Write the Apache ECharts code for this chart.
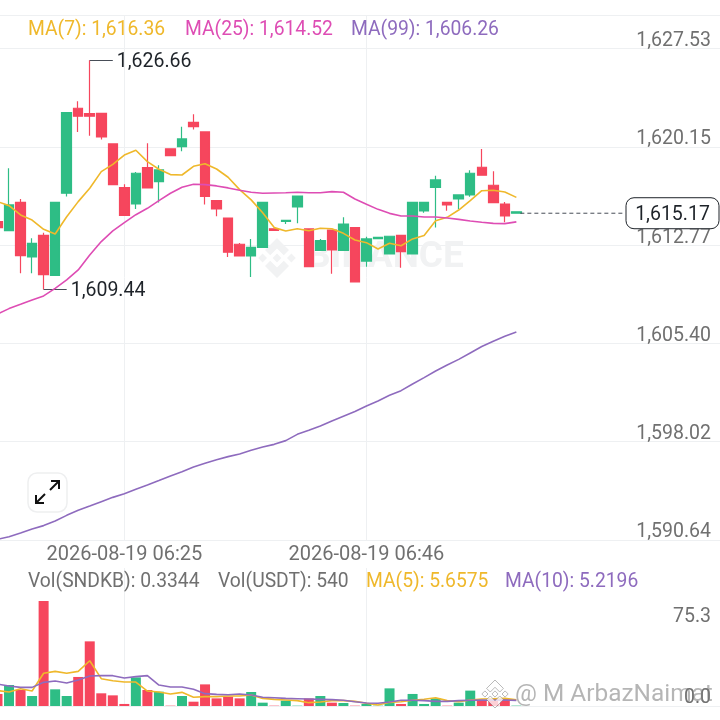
<!DOCTYPE html>
<html><head><meta charset="utf-8">
<style>html,body{margin:0;padding:0;background:#fff}#c{width:720px;height:720px}</style>
<script src="https://cdn.jsdelivr.net/npm/echarts@6/dist/echarts.min.js"></script>
</head><body><div id="c"></div>
<script>
const categories = ["06:14","06:15","06:16","06:17","06:18","06:19","06:20","06:21","06:22","06:23","06:24","06:25","06:26","06:27","06:28","06:29","06:30","06:31","06:32","06:33","06:34","06:35","06:36","06:37","06:38","06:39","06:40","06:41","06:42","06:43","06:44","06:45","06:46","06:47","06:48","06:49","06:50","06:51","06:52","06:53","06:54","06:55","06:56","06:57","06:58","06:59","07:00","07:01","07:02","07:03","07:04","07:05","07:06","07:07","07:08","07:09","07:10","07:11","07:12","07:13","07:14","07:15","07:16","07:17"];
const opens = [1614.54,1613.86,1615.99,1611.89,1613.51,1610.51,1616.67,1623.05,1622.65,1622.67,1620.37,1617.09,1615.87,1618.59,1617.54,1620.00,1620.17,1621.99,1621.27,1616.12,1614.81,1612.84,1611.96,1612.61,1614.00,1614.56,1615.64,1613.99,1612.38,1613.91,1612.38,1614.09,1611.58,1613.26,1612.11,1613.51,1612.11,1615.34,1617.11,1615.99,1616.24,1616.54,1618.62,1617.27,1615.86,1615.17];
const closes = [1614.09,1615.79,1611.99,1612.91,1610.56,1615.99,1622.72,1622.45,1622.45,1620.90,1617.32,1615.01,1618.17,1617.07,1618.42,1619.50,1620.75,1621.67,1616.44,1615.49,1612.24,1611.96,1612.61,1615.99,1613.89,1614.64,1616.46,1611.16,1613.11,1612.41,1614.36,1610.01,1613.24,1613.36,1613.44,1612.28,1615.99,1615.99,1617.67,1615.79,1616.54,1618.17,1618.02,1615.96,1614.96,1615.28];
const lows = [1614.09,1613.86,1610.66,1610.66,1609.44,1610.51,1616.42,1621.27,1620.99,1620.70,1617.32,1615.01,1615.49,1617.07,1615.97,1619.50,1619.82,1621.45,1615.82,1614.94,1611.89,1611.96,1610.38,1612.61,1613.89,1614.36,1614.41,1611.16,1612.38,1610.63,1612.38,1610.01,1611.16,1613.26,1612.11,1611.08,1612.11,1615.21,1614.09,1615.36,1615.46,1616.41,1618.02,1615.96,1614.49,1615.17];
const highs = [1614.54,1618.54,1616.24,1613.29,1613.71,1615.99,1622.72,1623.57,1626.66,1622.67,1620.37,1617.34,1618.27,1620.42,1618.77,1620.00,1621.67,1622.60,1621.27,1616.12,1614.81,1612.94,1613.24,1615.99,1614.00,1614.64,1616.46,1613.99,1613.24,1613.91,1614.86,1614.09,1613.41,1613.36,1613.44,1613.51,1615.99,1615.99,1617.99,1615.99,1616.54,1618.39,1619.99,1618.32,1616.01,1615.28];
const ma7 = [1616.04,1615.74,1615.04,1614.66,1613.96,1613.61,1614.91,1616.04,1617.04,1618.29,1618.84,1619.54,1619.90,1619.04,1618.47,1618.07,1618.04,1618.69,1618.89,1618.49,1617.87,1616.94,1616.17,1615.21,1614.09,1613.84,1614.01,1613.86,1614.04,1614.01,1613.66,1613.16,1612.96,1612.48,1612.91,1612.73,1613.24,1613.49,1614.61,1614.86,1615.41,1616.11,1616.86,1616.89,1616.76,1616.36];
const ma25 = [1607.61,1608.01,1608.33,1608.66,1608.96,1609.53,1610.16,1610.91,1612.04,1613.04,1613.84,1614.46,1615.06,1615.54,1616.12,1616.67,1617.12,1617.34,1617.32,1617.22,1617.07,1616.89,1616.74,1616.67,1616.69,1616.71,1616.74,1616.71,1616.71,1616.79,1616.74,1616.24,1615.84,1615.46,1615.16,1614.96,1614.96,1614.89,1614.89,1614.81,1614.71,1614.59,1614.49,1614.41,1614.39,1614.52];
const ma99 = [1590.69,1590.89,1591.17,1591.47,1591.72,1592.07,1592.49,1592.87,1593.19,1593.52,1593.84,1594.12,1594.45,1594.77,1595.10,1595.45,1595.77,1596.12,1596.40,1596.67,1596.90,1597.10,1597.37,1597.62,1597.82,1598.10,1598.57,1598.87,1599.20,1599.58,1599.93,1600.28,1600.70,1601.08,1601.50,1601.85,1602.35,1602.83,1603.33,1603.78,1604.20,1604.68,1605.16,1605.56,1605.93,1606.26];
const volumes = [11.2,19.5,14.9,9.3,97.6,15.5,9.3,27,60.1,11.8,9.9,1.9,26.6,14.9,13.3,0.3,9.3,4,20.1,7.1,8.7,7.1,13,3.1,0.3,5,0.3,7,9.3,3.1,2.8,0.3,1.9,0.3,16.4,1.9,11.2,1.9,7.1,0.3,3.1,14.3,5.6,7.1,6.5,0.3344];
const volMa5 = [14.3,13,16.1,13.9,30.4,32.2,30.4,32.2,42.1,25.4,23.5,22.3,22.3,13.9,13,11.2,12.7,8.1,8.7,8.7,9.3,9.3,10.2,7.1,6.2,5.6,5,3.1,3.7,5,5,4.3,2.5,0.9,3.4,4,5.3,6.2,7.7,5,4,5.6,6.5,6.8,7.1,5.6575];
const volMa10 = [20.4,18.6,17.3,17.3,22,23.2,21.4,24.2,27.9,28.2,28.2,26,27.3,28.2,19.5,17.7,17.7,15.5,11.5,10.8,10.5,11.2,10.2,8.1,7.7,7.1,6.8,6.5,6.2,5.9,5.3,4,2.8,2.5,3.7,5.3,5.3,5,4.3,4.3,5,5.3,5.6,5.3,5.6,5.2196];
const priceTicks = [1590.64,1598.02,1605.40,1612.77,1620.15,1627.53];
const volTicks = [0,75.3];
const dateLabels = ["06:25","06:46"];
const lastPrice = 1615.17, highMark = 1626.66, lowMark = 1609.44;

const FONT = 'Roboto', FS = 20;
const RED = '#F6465D', GREEN = '#2EBD85', GRID = '#EEF0F2', AXTXT = '#707070', YEL = '#EFB82B', PINK = '#DE4DB4', PUR = '#8E6BBE';
const isMarked = (i, v) => dateLabels.includes(v);
const fmt = v => v.toLocaleString('en-US', {minimumFractionDigits: 2, maximumFractionDigits: 2});
const candleData = opens.map((o, i) => [o, closes[i], lows[i], highs[i]]);
const volData = volumes.map((v, i) => ({value: v, itemStyle: {color: closes[i] >= opens[i] ? GREEN : RED}}));
const line = (name, data, color, x, y) => ({name, type: 'line', data, xAxisIndex: x, yAxisIndex: y, symbol: 'none', smooth: false, lineStyle: {color, width: 1.6}, z: 5, silent: true, animation: false});
const leader = (from, to, val) => [{name: fmt(val), coord: [categories[from], val]}, {name: fmt(val), coord: [categories[to], val]}];

const option = {
  animation: false,
  backgroundColor: '#fff',
  grid: [
    {left: -2.5, right: -3.9, top: 15, height: 525, outerBoundsMode: 'none'},
    {left: -2.5, right: -3.9, top: 568, height: 138, outerBoundsMode: 'none'}
  ],
  xAxis: [
    {type: 'category', gridIndex: 0, data: categories, boundaryGap: false,
     axisLine: {show: false}, axisTick: {show: false},
     splitLine: {show: true, interval: isMarked, lineStyle: {color: GRID, width: 1}},
     axisLabel: {show: true, interval: isMarked, formatter: v => '2026-08-19 ' + v, color: AXTXT, fontFamily: FONT, fontSize: FS, margin: 5}},
    {type: 'category', gridIndex: 1, data: categories, boundaryGap: false,
     axisLine: {show: true, lineStyle: {color: GRID}}, axisTick: {show: false},
     splitLine: {show: true, interval: isMarked, lineStyle: {color: GRID, width: 1}},
     axisLabel: {show: false}}
  ],
  yAxis: [
    {type: 'value', gridIndex: 0, position: 'right', min: 1590.64, max: 1630.05, scale: true,
     axisLine: {show: false}, axisTick: {show: false, customValues: priceTicks.concat([1630.05])},
     splitLine: {show: true, lineStyle: {color: GRID, width: 1}},
     axisLabel: {inside: true, customValues: priceTicks, formatter: fmt, color: AXTXT, fontFamily: FONT, fontSize: 19.5, margin: 12.9, verticalAlign: 'bottom', lineHeight: 15}},
    {type: 'value', gridIndex: 1, position: 'right', min: 0, max: 128.3,
     axisLine: {show: false}, axisTick: {show: false, customValues: volTicks},
     splitLine: {show: false},
     axisLabel: {inside: true, customValues: volTicks, formatter: v => v.toFixed(1), color: AXTXT, fontFamily: FONT, fontSize: 19.5, margin: 12.9, verticalAlign: 'bottom', lineHeight: 15}}
  ],
  series: [
    {name: 'Price', type: 'candlestick', xAxisIndex: 0, yAxisIndex: 0, data: candleData, barWidth: 10, z: 3, silent: true,
     itemStyle: {color: GREEN, color0: RED, borderColor: GREEN, borderColor0: RED, borderWidth: 1.2},
     markLine: {silent: true, symbol: 'none', animation: false,
       lineStyle: {color: '#474D57', width: 1, type: 'solid'},
       label: {show: true, position: 'end', distance: 3, color: '#1E2329', fontFamily: FONT, fontSize: 19.5, formatter: '{b}', offset: [1, 2]},
       data: [leader(8, 10, highMark), leader(4, 6, lowMark)]}},
    line('MA(7)', ma7, YEL, 0, 0),
    line('MA(25)', ma25, PINK, 0, 0),
    line('MA(99)', ma99, PUR, 0, 0),
    {name: 'Vol', type: 'bar', xAxisIndex: 1, yAxisIndex: 1, data: volData, barWidth: 10, z: 3, silent: true},
    line('MA(5)', volMa5, YEL, 1, 1),
    line('MA(10)', volMa10, PUR, 1, 1)
  ]
};

const chart = echarts.init(document.getElementById('c'), null, {renderer: 'canvas'});
chart.setOption(option);

function logo(cx, cy, r, fill, stroke, z) {
  const shapes = [
    [[0,-.22],[.22,0],[0,.22],[-.22,0]],
    [[-.72,-.22],[-.5,0],[-.72,.22],[-.94,0]],
    [[.72,-.22],[.94,0],[.72,.22],[.5,0]],
    [[0,-1],[.6,-.4],[.34,-.14],[0,-.48],[-.34,-.14],[-.6,-.4]],
    [[0,1],[.6,.4],[.34,.14],[0,.48],[-.34,.14],[-.6,.4]]
  ];
  return shapes.map(s => ({type: 'polygon', silent: true, z, shape: {points: s.map(p => [cx + p[0]*r, cy + p[1]*r])}, style: {fill, stroke, lineWidth: stroke ? 1 : 0}}));
}
const txt = (x, y, text, fill, extra) => ({type: 'text', silent: true, z: 20, x, y, style: Object.assign({text, fill, font: '19.3px ' + FONT, textVerticalAlign: 'middle', textBaseline: 'middle'}, extra || {})});
const py = chart.convertToPixel({yAxisIndex: 0}, lastPrice);
const px = chart.convertToPixel({xAxisIndex: 0}, categories[45]);
chart.setOption({graphic: [
  ...logo(277, 258, 20, '#F1F2F3', null, 1),
  {type: 'text', silent: true, z: 1, x: 307, y: 258, style: {text: 'BINANCE', fill: '#F1F2F3', font: 'bold 37px ' + FONT, textVerticalAlign: 'middle', textBaseline: 'middle'}},
  txt(28, 30, 'MA(7): 1,616.36', YEL),
  txt(185, 30, 'MA(25): 1,614.52', PINK),
  txt(351, 30, 'MA(99): 1,606.26', PUR),
  txt(28, 582, 'Vol(SNDKB): 0.3344', AXTXT),
  txt(218, 582, 'Vol(USDT): 540', AXTXT),
  txt(366, 582, 'MA(5): 5.6575', YEL),
  txt(505, 582, 'MA(10): 5.2196', PUR),
  {type: 'line', silent: true, z: 10, shape: {x1: px + 4, y1: py, x2: 625, y2: py}, style: {stroke: '#474D57', lineWidth: 1, lineDash: [4, 3]}},
  {type: 'rect', silent: true, z: 30, shape: {x: 626, y: py - 15.5, width: 93, height: 31, r: 8}, style: {fill: '#fff', stroke: '#1E2329', lineWidth: 1}},
  {type: 'text', silent: true, z: 31, x: 672.5, y: py + 1.5, style: {text: fmt(lastPrice), fill: '#1E2329', font: '19.5px ' + FONT, textAlign: 'center', textVerticalAlign: 'middle', textBaseline: 'middle'}},
  {type: 'rect', silent: true, z: 15, shape: {x: 28, y: 473, width: 39, height: 39, r: 9}, style: {fill: '#fff', stroke: '#EEEFF0', lineWidth: 1.5}},
  {type: 'polyline', silent: true, z: 16, shape: {points: [[45, 494], [36, 503]]}, style: {stroke: '#111', lineWidth: 2, fill: null}},
  {type: 'polyline', silent: true, z: 16, shape: {points: [[36, 495], [36, 503], [44, 503]]}, style: {stroke: '#111', lineWidth: 2, fill: null}},
  {type: 'polyline', silent: true, z: 16, shape: {points: [[50, 490], [59, 481]]}, style: {stroke: '#111', lineWidth: 2, fill: null}},
  {type: 'polyline', silent: true, z: 16, shape: {points: [[51, 481], [59, 481], [59, 489]]}, style: {stroke: '#111', lineWidth: 2, fill: null}},
  ...logo(495, 694, 14, 'rgba(255,255,255,0.75)', 'rgba(130,130,130,0.55)', 40),
  {type: 'text', silent: true, z: 41, x: 515, y: 695, style: {text: '@ M ArbazNaimat', fill: 'rgba(120,120,120,0.55)', font: '24.4px ' + FONT, textVerticalAlign: 'middle', textBaseline: 'middle'}}
]});
</script></body></html>
